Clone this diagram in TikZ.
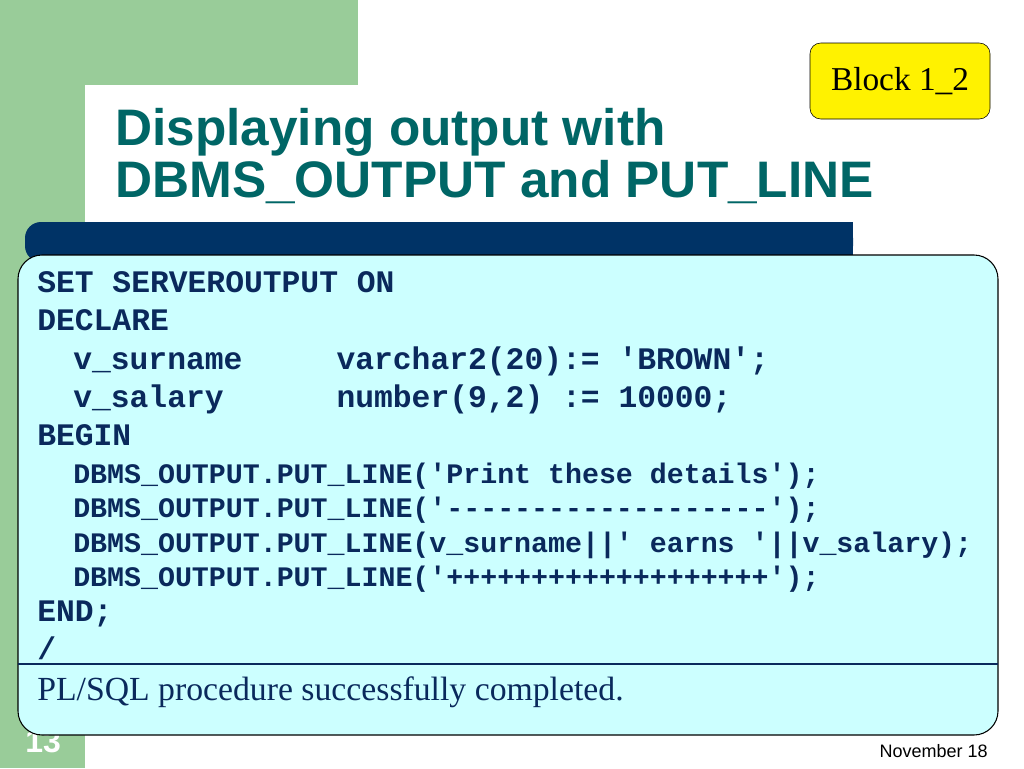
\documentclass[tikz,border=0pt]{standalone}
\usepackage{fontspec}
\setmainfont{Liberation Serif}
\setsansfont{Liberation Sans}
\setmonofont{Liberation Mono}
\definecolor{slidegreen}{rgb}{0.60, 0.80, 0.60}
\definecolor{barnavy}{rgb}{0.00, 0.20, 0.40}
\definecolor{codecyan}{rgb}{0.80, 1.00, 1.00}
\definecolor{codeink}{rgb}{0.04, 0.16, 0.36}
\definecolor{titleteal}{rgb}{0.00, 0.40, 0.40}
\tikzset{
  codeline/.style={anchor=base west, inner sep=0pt, text=codeink, font=\ttfamily\bfseries\fontsize{23.5}{26}\selectfont},
  callline/.style={codeline, font=\ttfamily\bfseries\fontsize{21.2}{24}\selectfont},
  titleline/.style={anchor=base west, inner sep=0pt, text=titleteal, font=\sffamily\bfseries\fontsize{38.5}{42}\selectfont}
}
\begin{document}
\begin{tikzpicture}[x=0.75pt,y=-0.75pt]
\useasboundingbox (0,0) rectangle (1024,768);
% background
\fill[slidegreen] (0,0) rectangle (358,85);
\fill[slidegreen] (0,0) rectangle (85,768);
\fill[white] (85,768) -- (85,115) arc (180:270:30) -- (358,85) -- (358,0) -- (1024,0) -- (1024,768) -- cycle;
% slide number
\node[anchor=base west, inner sep=0pt, text=white, font=\sffamily\bfseries\fontsize{24}{26}\selectfont] (slidenum) at (25,752) {13};
% title
\node[titleline] (title1) at (115,145) {Displaying output with};
\node[titleline] (title2) at (115,197) {DBMS\_OUTPUT and PUT\_LINE};
\fill[barnavy, rounded corners=12] (25,222) rectangle (853,262);
\fill[barnavy] (200,222) rectangle (853,255);
% block tag
\node[draw=black, fill=yellow, rounded corners=8, minimum width=135pt, minimum height=57pt, inner sep=0pt, font=\fontsize{25}{28}\selectfont] (tag) at (900,81) {Block 1\_2};
% code box
\draw[fill=codecyan, rounded corners=18, line width=0.8pt] (18,255) rectangle (998,735);
\coordinate (ruleL) at (18,664);
\coordinate (ruleR) at (998,664);
\draw[line width=0.8pt, codeink] (ruleL) -- (ruleR);
\node[codeline] (c1) at (37,292) {SET SERVEROUTPUT ON};
\node[codeline] (c2) at (37,330) {DECLARE};
\node[codeline] (c3) at (73,369) {v\_surname\ \ \ \ \ varchar2(20):= 'BROWN';};
\node[codeline] (c4) at (73,407) {v\_salary\ \ \ \ \ \ number(9,2) := 10000;};
\node[codeline] (c5) at (37,445) {BEGIN};
\node[callline] (c6) at (73,483) {DBMS\_OUTPUT.PUT\_LINE('Print these details');};
\node[callline] (c7) at (73,517) {DBMS\_OUTPUT.PUT\_LINE('-------------------');};
\node[callline] (c8) at (73,552) {DBMS\_OUTPUT.PUT\_LINE(v\_surname||' earns '||v\_salary);};
\node[callline] (c9) at (73,586) {DBMS\_OUTPUT.PUT\_LINE('+++++++++++++++++++');};
\node[codeline] (c10) at (37,621) {END;};
\node[codeline] (c11) at (37,659) {/};
\node[anchor=base west, inner sep=0pt, text=codeink, font=\fontsize{25.3}{28}\selectfont] (result) at (37,700) {PL/SQL procedure successfully completed.};
% footer
\node[anchor=base east, inner sep=0pt, font=\sffamily\fontsize{13.5}{15}\selectfont] (date) at (988,757) {November 18};
\end{tikzpicture}
\end{document}
